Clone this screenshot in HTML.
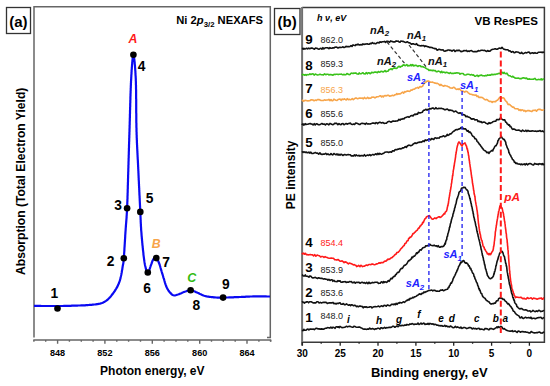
<!DOCTYPE html>
<html><head><meta charset="utf-8"><style>
html,body{margin:0;padding:0;background:#fff;width:550px;height:386px;overflow:hidden}
svg{display:block}
text{font-family:"Liberation Sans",sans-serif}
</style></head><body>
<svg width="550" height="386" viewBox="0 0 550 386">
<rect x="6.5" y="7.5" width="24" height="26" fill="none" stroke="#333" stroke-width="1.3"/>
<text x="18.4" y="27" font-family="Liberation Sans, sans-serif" font-weight="bold" font-size="15" text-anchor="middle">(a)</text>
<path d="M34,337.5 V6.7 H270.3 V337.5 H267" fill="none" stroke="#666" stroke-width="1.5"/>
<path d="M33.3,340 H270.5 V341.5" fill="none" stroke="#666" stroke-width="1.5"/>
<path d="M33.9,340V341.8M45.7,340V341.8M57.6,340V343.8M69.4,340V341.8M81.3,340V341.8M93.1,340V341.8M104.9,340V343.8M116.8,340V341.8M128.6,340V341.8M140.5,340V341.8M152.3,340V343.8M164.1,340V341.8M176.0,340V341.8M187.8,340V341.8M199.7,340V343.8M211.5,340V341.8M223.3,340V341.8M235.2,340V341.8M247.0,340V343.8M258.9,340V341.8M270.7,340V341.8" stroke="#666" stroke-width="1.4"/>
<text x="57.6" y="356.4" font-family="Liberation Sans, sans-serif" font-weight="bold" font-size="9.8" text-anchor="middle" textLength="15.2" lengthAdjust="spacingAndGlyphs">848</text>
<text x="104.9" y="356.4" font-family="Liberation Sans, sans-serif" font-weight="bold" font-size="9.8" text-anchor="middle" textLength="15.2" lengthAdjust="spacingAndGlyphs">852</text>
<text x="152.3" y="356.4" font-family="Liberation Sans, sans-serif" font-weight="bold" font-size="9.8" text-anchor="middle" textLength="15.2" lengthAdjust="spacingAndGlyphs">856</text>
<text x="199.7" y="356.4" font-family="Liberation Sans, sans-serif" font-weight="bold" font-size="9.8" text-anchor="middle" textLength="15.2" lengthAdjust="spacingAndGlyphs">860</text>
<text x="247.0" y="356.4" font-family="Liberation Sans, sans-serif" font-weight="bold" font-size="9.8" text-anchor="middle" textLength="15.2" lengthAdjust="spacingAndGlyphs">864</text>
<text x="152.3" y="374.9" font-family="Liberation Sans, sans-serif" font-weight="bold" font-size="12" text-anchor="middle">Photon energy, eV</text>
<text transform="translate(24.8,181.3) rotate(-90)" font-family="Liberation Sans, sans-serif" font-weight="bold" font-size="12.1" text-anchor="middle">Absorption (Total Electron Yield)</text>
<text x="263" y="23.9" font-family="Liberation Sans, sans-serif" font-weight="bold" font-size="11.2" text-anchor="end">Ni 2<tspan font-style="italic">p</tspan><tspan font-size="7.8" dy="2.8">3/2</tspan><tspan dy="-2.8"> NEXAFS</tspan></text>
<path d="M34.0,305.9L34.4,305.9L34.8,305.9L35.2,305.9L35.7,305.9L36.2,305.9L36.8,305.9L37.4,305.9L38.0,305.9L38.6,305.9L39.3,305.9L39.9,305.9L40.6,305.9L41.4,306.0L42.1,306.0L42.9,306.0L43.6,306.0L44.4,306.0L45.2,306.0L46.0,306.0L46.8,306.0L47.7,306.0L48.5,306.0L49.3,306.0L50.1,306.0L50.9,306.0L51.8,306.0L52.6,306.0L53.4,306.0L54.2,306.0L55.0,306.0L55.7,306.0L56.5,306.0L57.2,306.0L58.0,306.0L58.7,306.0L59.3,306.0L60.0,306.0L60.8,306.0L61.6,306.0L62.3,306.0L63.1,306.0L63.9,305.9L64.7,305.9L65.5,305.9L66.3,305.9L67.1,305.9L67.9,305.9L68.7,305.8L69.4,305.8L70.2,305.8L71.0,305.8L71.7,305.7L72.5,305.7L73.2,305.7L74.0,305.7L74.7,305.7L75.4,305.6L76.1,305.6L76.8,305.6L77.4,305.6L78.1,305.5L78.7,305.5L79.3,305.5L79.9,305.5L80.4,305.5L81.0,305.4L81.5,305.4L82.0,305.4L83.3,305.4L84.3,305.3L85.2,305.3L86.0,305.2L86.7,305.2L87.3,305.1L87.8,305.1L88.3,305.0L88.9,305.0L89.4,304.9L90.0,304.9L90.9,304.8L91.7,304.8L92.5,304.7L93.2,304.6L94.0,304.5L94.7,304.5L95.4,304.4L96.0,304.3L96.9,304.2L97.7,304.1L98.5,303.9L99.2,303.8L100.0,303.6L100.7,303.4L101.3,303.2L102.0,303.0L102.7,302.7L103.3,302.4L104.0,302.1L104.7,301.7L105.3,301.3L106.0,300.9L106.7,300.4L107.3,299.9L108.0,299.3L108.5,298.8L109.0,298.3L109.5,297.8L110.0,297.2L110.5,296.7L111.0,296.1L111.5,295.4L112.0,294.8L112.4,294.3L112.8,293.7L113.2,293.2L113.6,292.6L114.1,292.0L114.5,291.4L114.9,290.8L115.3,290.2L115.6,289.6L116.0,289.0L116.4,288.3L116.8,287.7L117.1,287.1L117.5,286.4L117.8,285.7L118.1,285.1L118.4,284.4L118.7,283.7L119.0,283.0L119.2,282.3L119.5,281.7L119.7,281.0L119.9,280.4L120.1,279.7L120.3,279.0L120.5,278.3L120.6,277.5L120.8,276.8L121.0,276.0L121.1,275.4L121.3,274.7L121.4,274.1L121.5,273.4L121.7,272.7L121.8,272.0L121.9,271.2L122.0,270.5L122.2,269.8L122.3,269.1L122.4,268.4L122.5,267.7L122.6,267.0L122.7,266.3L122.8,265.8L122.9,265.3L123.0,264.8L123.1,264.3L123.2,263.9L123.3,263.3L123.4,262.6L123.5,261.8L123.6,260.9L123.7,259.7L123.8,258.3L123.8,257.8L123.9,257.3L123.9,256.8L124.0,256.2L124.0,255.7L124.0,255.1L124.1,254.4L124.1,253.8L124.2,253.1L124.2,252.5L124.3,251.8L124.3,251.0L124.4,250.3L124.4,249.6L124.4,248.8L124.5,248.1L124.5,247.3L124.6,246.5L124.6,245.8L124.7,245.0L124.7,244.2L124.8,243.4L124.8,242.6L124.9,241.8L124.9,241.0L125.0,240.2L125.0,239.4L125.1,238.6L125.1,237.9L125.2,237.1L125.2,236.3L125.2,235.6L125.3,234.8L125.3,234.1L125.4,233.4L125.4,232.7L125.5,232.0L125.5,231.3L125.6,230.6L125.6,230.0L125.7,229.2L125.7,228.4L125.8,227.7L125.8,227.0L125.9,226.3L125.9,225.6L126.0,225.0L126.0,224.3L126.1,223.7L126.1,223.1L126.2,222.5L126.2,221.8L126.3,221.2L126.3,220.6L126.4,220.0L126.4,219.4L126.5,218.8L126.5,218.2L126.6,217.5L126.6,216.9L126.6,216.2L126.7,215.5L126.7,214.8L126.8,214.1L126.8,213.4L126.9,212.6L126.9,211.8L127.0,210.9L127.0,210.1L127.1,209.1L127.1,208.2L127.1,207.6L127.1,207.1L127.2,206.5L127.2,205.9L127.2,205.3L127.2,204.7L127.3,204.1L127.3,203.4L127.3,202.8L127.3,202.2L127.4,201.5L127.4,200.8L127.4,200.2L127.4,199.5L127.5,198.8L127.5,198.1L127.5,197.4L127.5,196.7L127.5,196.0L127.6,195.3L127.6,194.6L127.6,193.9L127.6,193.2L127.7,192.4L127.7,191.7L127.7,191.0L127.7,190.2L127.7,189.5L127.8,188.7L127.8,188.0L127.8,187.3L127.8,186.5L127.8,185.7L127.9,185.0L127.9,184.2L127.9,183.5L127.9,182.7L128.0,182.0L128.0,181.2L128.0,180.4L128.0,179.7L128.0,178.9L128.1,178.2L128.1,177.4L128.1,176.7L128.1,175.9L128.1,175.2L128.2,174.4L128.2,173.7L128.2,172.9L128.2,172.2L128.3,171.5L128.3,170.7L128.3,170.0L128.3,169.3L128.3,168.6L128.4,168.0L128.4,167.3L128.4,166.6L128.4,165.9L128.4,165.2L128.5,164.6L128.5,163.9L128.5,163.2L128.5,162.5L128.5,161.9L128.6,161.2L128.6,160.5L128.6,159.9L128.6,159.2L128.6,158.5L128.7,157.8L128.7,157.2L128.7,156.5L128.7,155.8L128.7,155.1L128.8,154.5L128.8,153.8L128.8,153.1L128.8,152.4L128.8,151.8L128.9,151.1L128.9,150.4L128.9,149.7L128.9,149.0L128.9,148.3L129.0,147.6L129.0,146.9L129.0,146.2L129.0,145.5L129.0,144.8L129.1,144.1L129.1,143.4L129.1,142.7L129.1,142.0L129.2,141.3L129.2,140.6L129.2,139.8L129.2,139.1L129.2,138.4L129.3,137.6L129.3,136.9L129.3,136.1L129.3,135.4L129.4,134.6L129.4,133.9L129.4,133.1L129.4,132.3L129.5,131.6L129.5,130.8L129.5,130.0L129.5,129.4L129.5,128.7L129.6,128.1L129.6,127.4L129.6,126.7L129.6,126.0L129.6,125.4L129.7,124.7L129.7,124.0L129.7,123.3L129.7,122.5L129.7,121.8L129.8,121.1L129.8,120.4L129.8,119.6L129.8,118.9L129.8,118.2L129.9,117.4L129.9,116.7L129.9,115.9L129.9,115.2L129.9,114.4L130.0,113.6L130.0,112.9L130.0,112.1L130.0,111.3L130.0,110.6L130.1,109.8L130.1,109.0L130.1,108.3L130.1,107.5L130.2,106.7L130.2,106.0L130.2,105.2L130.2,104.4L130.2,103.6L130.3,102.9L130.3,102.1L130.3,101.4L130.3,100.6L130.4,99.8L130.4,99.1L130.4,98.3L130.4,97.6L130.4,96.9L130.5,96.1L130.5,95.4L130.5,94.7L130.5,93.9L130.6,93.2L130.6,92.5L130.6,91.8L130.6,91.1L130.7,90.4L130.7,89.7L130.7,89.1L130.7,88.4L130.8,87.7L130.8,87.1L130.8,86.4L130.8,85.8L130.9,85.2L130.9,84.6L130.9,84.0L130.9,83.4L131.0,82.8L131.0,82.2L131.0,81.6L131.0,81.1L131.1,80.5L131.1,80.0L131.2,78.9L131.2,77.9L131.3,76.8L131.3,75.8L131.4,74.7L131.5,73.7L131.5,72.7L131.6,71.7L131.6,70.7L131.7,69.7L131.8,68.8L131.8,67.8L131.9,66.9L132.0,66.0L132.0,65.1L132.1,64.3L132.2,63.5L132.2,62.7L132.3,62.0L132.4,61.2L132.4,60.5L132.5,59.9L132.6,59.3L132.6,58.7L132.7,58.2L132.8,57.7L132.9,57.3L132.9,56.9L133.0,56.5L133.1,56.2L133.1,56.0L133.2,55.8L133.3,55.6L133.3,55.5L133.4,55.5L133.5,55.5L133.5,55.6L133.6,55.8L133.7,56.0L133.8,56.2L133.8,56.5L133.9,56.9L134.0,57.3L134.1,57.7L134.1,58.2L134.2,58.7L134.3,59.3L134.4,59.9L134.4,60.5L134.5,61.2L134.6,62.0L134.7,62.7L134.7,63.5L134.8,64.3L134.9,65.1L135.0,66.0L135.0,66.9L135.1,67.8L135.2,68.8L135.2,69.7L135.3,70.7L135.4,71.7L135.4,72.7L135.5,73.7L135.5,74.7L135.6,75.8L135.7,76.8L135.7,77.9L135.8,78.9L135.8,80.0L135.8,80.5L135.8,81.1L135.9,81.6L135.9,82.2L135.9,82.8L135.9,83.4L135.9,84.0L135.9,84.6L136.0,85.2L136.0,85.8L136.0,86.4L136.0,87.1L136.0,87.7L136.0,88.4L136.0,89.1L136.1,89.7L136.1,90.4L136.1,91.1L136.1,91.8L136.1,92.5L136.1,93.2L136.1,93.9L136.1,94.7L136.1,95.4L136.1,96.1L136.1,96.9L136.1,97.6L136.1,98.3L136.2,99.1L136.2,99.8L136.2,100.6L136.2,101.4L136.2,102.1L136.2,102.9L136.2,103.6L136.2,104.4L136.2,105.2L136.2,106.0L136.2,106.7L136.2,107.5L136.2,108.3L136.2,109.0L136.2,109.8L136.2,110.6L136.2,111.3L136.2,112.1L136.2,112.9L136.3,113.6L136.3,114.4L136.3,115.2L136.3,115.9L136.3,116.7L136.3,117.4L136.3,118.2L136.3,118.9L136.3,119.6L136.3,120.4L136.3,121.1L136.3,121.8L136.3,122.5L136.4,123.3L136.4,124.0L136.4,124.7L136.4,125.4L136.4,126.0L136.4,126.7L136.4,127.4L136.5,128.1L136.5,128.7L136.5,129.4L136.5,130.0L136.5,130.8L136.5,131.6L136.6,132.3L136.6,133.1L136.6,133.9L136.6,134.6L136.7,135.4L136.7,136.1L136.7,136.9L136.7,137.6L136.8,138.3L136.8,139.0L136.8,139.8L136.9,140.5L136.9,141.2L136.9,141.9L136.9,142.6L137.0,143.3L137.0,144.0L137.0,144.7L137.1,145.4L137.1,146.1L137.1,146.8L137.2,147.5L137.2,148.1L137.2,148.8L137.3,149.5L137.3,150.2L137.3,150.8L137.4,151.5L137.4,152.2L137.4,152.9L137.5,153.5L137.5,154.2L137.5,154.9L137.6,155.6L137.6,156.2L137.6,156.9L137.7,157.6L137.7,158.2L137.7,158.9L137.8,159.6L137.8,160.3L137.9,160.9L137.9,161.6L137.9,162.3L138.0,163.0L138.0,163.7L138.0,164.4L138.1,165.1L138.1,165.8L138.1,166.5L138.2,167.2L138.2,167.9L138.2,168.6L138.3,169.3L138.3,170.0L138.3,170.7L138.4,171.4L138.4,172.1L138.4,172.8L138.5,173.6L138.5,174.3L138.5,175.0L138.6,175.8L138.6,176.5L138.6,177.3L138.7,178.0L138.7,178.8L138.7,179.6L138.8,180.3L138.8,181.1L138.9,181.9L138.9,182.6L138.9,183.4L139.0,184.2L139.0,185.0L139.0,185.7L139.1,186.5L139.1,187.3L139.2,188.1L139.2,188.9L139.2,189.6L139.3,190.4L139.3,191.2L139.3,191.9L139.4,192.7L139.4,193.5L139.4,194.2L139.5,195.0L139.5,195.7L139.6,196.5L139.6,197.2L139.6,197.9L139.7,198.7L139.7,199.4L139.7,200.1L139.8,200.8L139.8,201.5L139.8,202.2L139.9,202.9L139.9,203.6L139.9,204.2L140.0,204.9L140.0,205.5L140.0,206.2L140.1,206.8L140.1,207.4L140.1,208.0L140.1,208.6L140.2,209.2L140.2,209.8L140.2,210.3L140.2,210.9L140.3,211.4L140.3,211.9L140.4,213.1L140.4,214.1L140.5,215.2L140.5,216.1L140.5,217.0L140.6,217.9L140.6,218.6L140.6,219.4L140.7,220.1L140.7,220.8L140.7,221.4L140.7,222.0L140.8,222.6L140.8,223.2L140.8,223.8L140.9,224.3L140.9,224.9L140.9,225.5L140.9,226.0L141.0,226.6L141.0,227.3L141.1,227.9L141.1,228.6L141.1,229.3L141.2,230.0L141.2,230.7L141.3,231.4L141.4,232.1L141.4,232.8L141.5,233.5L141.5,234.3L141.6,235.0L141.6,235.7L141.7,236.5L141.8,237.2L141.8,238.0L141.9,238.7L142.0,239.4L142.0,240.2L142.1,240.9L142.2,241.7L142.2,242.4L142.3,243.1L142.4,243.9L142.4,244.6L142.5,245.3L142.6,246.0L142.7,246.7L142.7,247.4L142.8,248.1L142.9,248.7L142.9,249.4L143.0,250.0L143.1,250.8L143.2,251.7L143.3,252.5L143.4,253.3L143.4,254.1L143.5,254.9L143.6,255.6L143.7,256.4L143.8,257.2L143.9,257.9L144.0,258.6L144.1,259.4L144.2,260.1L144.3,260.7L144.4,261.4L144.5,262.0L144.6,262.7L144.7,263.3L144.8,263.9L144.9,264.5L145.0,265.0L145.2,266.0L145.5,267.0L145.7,268.0L145.9,268.9L146.2,269.8L146.5,270.6L146.7,271.3L147.0,271.8L147.3,272.2L147.5,272.5L147.8,272.6L148.1,272.5L148.4,272.1L148.7,271.6L149.0,270.9L149.3,270.1L149.6,269.2L149.9,268.3L150.2,267.4L150.5,266.5L150.7,265.7L151.0,265.0L151.3,264.2L151.6,263.5L151.9,262.7L152.1,261.9L152.4,261.2L152.7,260.6L152.9,260.0L153.2,259.4L153.5,259.0L154.2,258.3L154.9,257.8L155.6,257.7L156.3,258.0L156.6,258.3L157.0,258.6L157.3,259.1L157.6,259.6L157.9,260.3L158.2,261.0L158.6,262.0L159.0,263.0L159.2,263.5L159.4,264.0L159.6,264.6L159.8,265.2L160.0,265.9L160.2,266.5L160.4,267.2L160.6,268.0L160.8,268.7L161.0,269.4L161.2,270.2L161.5,270.9L161.7,271.7L161.9,272.4L162.1,273.2L162.4,273.9L162.6,274.6L162.8,275.3L163.0,276.0L163.2,276.7L163.4,277.4L163.6,278.1L163.9,278.8L164.1,279.5L164.3,280.3L164.5,281.0L164.7,281.7L164.9,282.4L165.1,283.1L165.3,283.7L165.5,284.4L165.8,285.1L166.0,285.7L166.2,286.3L166.5,286.9L166.7,287.5L167.0,288.0L167.4,288.8L167.9,289.5L168.3,290.3L168.8,291.0L169.3,291.7L169.8,292.3L170.3,292.9L170.8,293.4L171.3,293.9L171.8,294.3L172.2,294.7L172.7,295.0L173.5,295.3L174.2,295.5L175.0,295.4L175.7,295.2L176.4,295.0L177.2,294.7L178.0,294.5L178.6,294.3L179.3,294.1L179.9,293.8L180.6,293.5L181.3,293.2L181.9,292.9L182.6,292.5L183.3,292.3L184.0,292.0L184.7,291.7L185.4,291.5L186.2,291.2L186.9,290.9L187.6,290.7L188.4,290.5L189.1,290.3L189.9,290.2L190.6,290.2L191.3,290.3L192.0,290.4L192.7,290.6L193.4,290.9L194.1,291.2L194.8,291.5L195.5,291.8L196.2,292.2L197.0,292.5L197.6,292.8L198.2,293.0L198.8,293.3L199.5,293.7L200.1,294.0L200.8,294.3L201.4,294.6L202.1,294.9L202.8,295.2L203.5,295.5L204.3,295.8L205.0,296.0L205.7,296.2L206.3,296.3L207.0,296.5L207.8,296.6L208.5,296.7L209.2,296.8L210.0,296.9L210.7,297.0L211.5,297.1L212.2,297.1L212.9,297.2L213.7,297.3L214.3,297.3L215.0,297.4L215.8,297.5L216.5,297.5L217.1,297.6L217.7,297.6L218.3,297.6L218.9,297.6L219.6,297.6L220.3,297.6L221.1,297.6L222.0,297.6L223.1,297.6L223.6,297.6L224.2,297.6L224.8,297.6L225.4,297.5L226.1,297.5L226.8,297.5L227.4,297.5L228.2,297.5L228.9,297.4L229.6,297.4L230.4,297.4L231.1,297.4L231.9,297.3L232.6,297.3L233.4,297.3L234.2,297.2L234.9,297.2L235.7,297.2L236.5,297.1L237.2,297.1L237.9,297.1L238.6,297.1L239.3,297.0L240.0,297.0L240.8,297.0L241.5,296.9L242.2,296.9L243.0,296.9L243.7,296.8L244.4,296.8L245.1,296.8L245.9,296.7L246.6,296.7L247.3,296.7L248.0,296.6L248.7,296.6L249.4,296.6L250.1,296.5L250.8,296.5L251.5,296.5L252.2,296.5L252.9,296.4L253.6,296.4L254.3,296.4L255.0,296.4L255.7,296.4L256.5,296.4L257.3,296.4L258.1,296.4L258.9,296.4L259.7,296.4L260.6,296.4L261.4,296.4L262.2,296.4L263.0,296.4L263.8,296.4L264.6,296.4L265.4,296.4L266.1,296.4L266.8,296.5L267.5,296.5L268.1,296.5L268.6,296.5L269.2,296.5L269.6,296.5L270.0,296.5" fill="none" stroke="#0a0af2" stroke-width="2.2" stroke-linejoin="round"/>
<circle cx="57.5" cy="308.5" r="3.3" fill="#000"/>
<circle cx="123.8" cy="258.3" r="3.3" fill="#000"/>
<circle cx="127.1" cy="208.2" r="3.3" fill="#000"/>
<circle cx="133.4" cy="54.8" r="3.3" fill="#000"/>
<circle cx="140.3" cy="211.9" r="3.3" fill="#000"/>
<circle cx="147.8" cy="272.5" r="3.3" fill="#000"/>
<circle cx="156.3" cy="258.1" r="3.3" fill="#000"/>
<circle cx="190.6" cy="290.2" r="3.3" fill="#000"/>
<circle cx="223.1" cy="297.6" r="3.3" fill="#000"/>
<text x="54.4" y="298.1" font-family="Liberation Sans, sans-serif" font-weight="bold" font-size="13.8" text-anchor="middle">1</text>
<text x="110.5" y="265.7" font-family="Liberation Sans, sans-serif" font-weight="bold" font-size="13.8" text-anchor="middle">2</text>
<text x="118" y="210.2" font-family="Liberation Sans, sans-serif" font-weight="bold" font-size="13.8" text-anchor="middle">3</text>
<text x="141.6" y="71.4" font-family="Liberation Sans, sans-serif" font-weight="bold" font-size="13.8" text-anchor="middle">4</text>
<text x="149.6" y="202.5" font-family="Liberation Sans, sans-serif" font-weight="bold" font-size="13.8" text-anchor="middle">5</text>
<text x="147.1" y="292.8" font-family="Liberation Sans, sans-serif" font-weight="bold" font-size="13.8" text-anchor="middle">6</text>
<text x="166" y="267.4" font-family="Liberation Sans, sans-serif" font-weight="bold" font-size="13.8" text-anchor="middle">7</text>
<text x="196.4" y="310.4" font-family="Liberation Sans, sans-serif" font-weight="bold" font-size="13.8" text-anchor="middle">8</text>
<text x="225.8" y="289.4" font-family="Liberation Sans, sans-serif" font-weight="bold" font-size="13.8" text-anchor="middle">9</text>
<text x="133" y="43.3" font-family="Liberation Sans, sans-serif" font-weight="bold" font-style="italic" font-size="12.3" fill="#ff1a1a" text-anchor="middle">A</text>
<text x="156.2" y="248.2" font-family="Liberation Sans, sans-serif" font-weight="bold" font-style="italic" font-size="12.3" fill="#f7a54a" text-anchor="middle">B</text>
<text x="191.8" y="281.6" font-family="Liberation Sans, sans-serif" font-weight="bold" font-style="italic" font-size="12.5" fill="#33bb11" text-anchor="middle">C</text>
<rect x="274.5" y="8.5" width="25.5" height="26" fill="none" stroke="#333" stroke-width="1.3"/>
<text x="287.2" y="27.4" font-family="Liberation Sans, sans-serif" font-weight="bold" font-size="15" text-anchor="middle">(b)</text>
<path d="M302.2,7.6 H544.4 V342.2 H302.2" fill="none" stroke="#3a3a3a" stroke-width="1.5"/>
<path d="M302.1,345.6 V6.9" fill="none" stroke="#707070" stroke-width="2"/>
<path d="M302.3,342V345.7M321.2,342V343.8M340.2,342V345.7M359.1,342V343.8M378.0,342V345.7M396.9,342V343.8M415.9,342V345.7M434.8,342V343.8M453.7,342V345.7M472.6,342V343.8M491.6,342V345.7M510.5,342V343.8M529.4,342V345.7" stroke="#222" stroke-width="1.3"/>
<text x="302.3" y="356.7" font-family="Liberation Sans, sans-serif" font-weight="bold" font-size="10" text-anchor="middle">30</text>
<text x="340.2" y="356.7" font-family="Liberation Sans, sans-serif" font-weight="bold" font-size="10" text-anchor="middle">25</text>
<text x="378.0" y="356.7" font-family="Liberation Sans, sans-serif" font-weight="bold" font-size="10" text-anchor="middle">20</text>
<text x="415.9" y="356.7" font-family="Liberation Sans, sans-serif" font-weight="bold" font-size="10" text-anchor="middle">15</text>
<text x="453.7" y="356.7" font-family="Liberation Sans, sans-serif" font-weight="bold" font-size="10" text-anchor="middle">10</text>
<text x="491.6" y="356.7" font-family="Liberation Sans, sans-serif" font-weight="bold" font-size="10" text-anchor="middle">5</text>
<text x="529.4" y="356.7" font-family="Liberation Sans, sans-serif" font-weight="bold" font-size="10" text-anchor="middle">0</text>
<text x="429.3" y="376.5" font-family="Liberation Sans, sans-serif" font-weight="bold" font-size="13" text-anchor="middle">Binding energy, eV</text>
<text transform="translate(294.8,174.8) rotate(-90)" font-family="Liberation Sans, sans-serif" font-weight="bold" font-size="12" text-anchor="middle">PE intensity</text>
<text x="474.6" y="24.5" font-family="Liberation Sans, sans-serif" font-weight="bold" font-size="11.3" textLength="63.4" lengthAdjust="spacingAndGlyphs">VB ResPES</text>
<text x="317" y="20.8" font-family="Liberation Sans, sans-serif" font-weight="bold" font-style="italic" font-size="9" textLength="29.3" lengthAdjust="spacing">h &#957;, eV</text>
<path d="M302.0,48.7L302.6,48.4L303.2,49.2L303.9,48.3L304.8,49.0L305.6,48.7L306.6,48.2L307.6,48.9L308.7,48.1L309.8,48.7L310.9,48.1L312.0,48.1L313.2,48.6L314.4,49.2L315.5,48.1L316.7,48.2L317.8,48.8L318.9,49.3L320.0,48.6L321.0,48.3L321.9,49.2L322.9,47.7L323.9,48.9L324.9,48.0L325.9,47.7L326.9,47.7L327.9,47.9L328.9,48.7L329.9,47.6L330.9,48.2L331.9,48.3L332.9,47.8L333.9,48.0L335.0,47.2L336.0,47.1L337.0,47.3L338.0,48.0L339.0,47.5L340.0,47.2L341.0,47.5L342.0,47.2L343.0,46.8L344.0,47.5L345.0,47.2L346.0,46.3L347.0,46.7L348.0,46.4L349.0,46.8L350.0,46.4L351.0,45.5L352.0,46.5L353.0,44.9L354.0,45.3L355.0,45.6L356.0,44.5L357.0,44.9L358.0,44.0L359.0,44.9L360.0,44.9L361.0,44.5L362.0,44.9L363.0,43.9L364.1,44.4L365.1,44.1L366.2,44.0L367.2,43.7L368.2,44.2L369.3,44.2L370.3,43.4L371.3,43.6L372.4,42.6L373.4,43.5L374.4,43.3L375.4,43.8L376.3,43.4L377.3,42.5L378.2,42.6L379.1,43.0L380.0,41.8L381.2,42.4L382.3,41.8L383.4,41.7L384.5,41.4L385.6,42.5L386.6,41.3L387.6,41.4L388.6,41.6L389.6,42.2L390.6,40.9L391.5,41.4L392.4,41.5L393.3,42.0L394.2,41.8L395.0,41.9L396.2,40.9L397.2,41.2L398.2,41.1L399.1,42.0L400.0,42.2L400.9,41.0L401.8,41.2L402.8,41.4L403.8,41.6L405.0,42.2L405.8,42.5L406.7,42.1L407.6,41.8L408.5,42.7L409.4,42.8L410.4,43.3L411.4,44.1L412.4,43.9L413.4,43.8L414.4,44.2L415.5,44.5L416.6,43.7L417.7,45.3L418.8,45.4L420.0,45.8L420.9,45.9L421.8,45.5L422.7,45.7L423.7,45.5L424.6,46.6L425.6,45.9L426.6,46.2L427.6,46.7L428.7,46.9L429.7,47.5L430.7,47.3L431.8,47.5L432.8,48.0L433.8,48.2L434.9,48.8L435.9,48.5L437.0,50.1L438.0,49.9L439.0,49.3L440.0,49.6L441.0,49.9L442.0,50.0L443.0,49.7L444.0,51.0L445.0,51.3L446.0,50.5L447.0,50.6L448.0,50.0L449.0,50.0L450.0,50.4L451.0,50.3L452.0,51.2L453.0,50.2L454.0,50.0L455.0,51.5L456.0,50.8L457.0,50.2L458.0,50.8L459.0,50.0L460.0,50.8L461.0,51.6L462.0,51.4L463.1,51.2L464.1,50.5L465.2,50.7L466.3,50.4L467.3,51.4L468.4,51.0L469.4,51.4L470.5,50.7L471.5,50.6L472.6,51.5L473.6,51.8L474.6,51.6L475.6,51.5L476.5,51.6L477.4,51.4L478.3,50.6L479.2,51.0L480.0,50.8L481.3,50.2L482.5,50.2L483.6,50.5L484.7,50.4L485.7,51.0L486.7,51.4L487.6,50.5L488.5,51.2L489.4,51.1L490.3,51.0L491.1,49.9L492.0,49.6L493.1,49.3L494.2,49.0L495.2,48.7L496.2,49.1L497.2,49.2L498.1,48.8L499.1,48.0L500.0,48.2L501.0,48.4L502.0,47.4L503.0,48.5L504.0,49.3L504.9,49.4L505.9,49.8L506.9,49.8L507.9,49.8L509.0,51.1L510.0,50.7L510.9,51.7L511.7,52.2L512.5,51.5L513.3,51.8L514.1,52.8L514.9,52.7L515.9,51.9L517.1,52.0L518.4,52.2L520.0,53.4L520.8,53.3L521.6,52.3L522.5,53.4L523.5,53.6L524.5,53.1L525.6,52.6L526.7,52.9L527.9,52.3L529.0,52.1L530.2,53.6L531.4,53.0L532.6,52.8L533.8,53.4L535.0,52.6L536.1,53.3L537.3,53.2L538.3,52.2L539.4,52.2L540.3,52.2L541.2,52.1L542.1,52.7L542.8,52.1L543.4,52.4L544.0,51.9" fill="none" stroke="#111" stroke-width="1.6" stroke-linejoin="round"/>
<path d="M302.0,75.3L302.5,74.4L303.1,74.5L303.8,74.7L304.5,75.2L305.3,74.5L306.1,75.3L307.0,74.6L307.9,74.7L308.9,74.6L309.9,73.8L310.9,74.5L311.9,74.1L313.0,73.8L314.1,75.1L315.3,74.1L316.4,74.6L317.5,75.0L318.7,74.7L319.9,74.3L321.0,74.6L322.2,74.7L323.4,75.0L324.5,73.9L325.7,74.7L326.8,74.2L327.9,74.2L328.9,75.0L330.0,74.5L331.0,74.6L332.0,74.9L333.0,75.1L334.0,74.3L335.1,74.6L336.1,74.3L337.2,74.3L338.2,74.6L339.3,74.2L340.4,74.3L341.5,74.1L342.6,74.8L343.7,74.4L344.7,74.6L345.8,74.7L346.9,73.6L347.9,74.0L349.0,74.6L350.0,74.4L351.0,73.2L352.0,73.1L353.0,73.6L354.0,73.0L354.9,73.2L355.8,72.9L356.7,73.8L357.6,74.0L358.4,74.1L359.2,72.9L360.0,73.7L361.4,73.6L362.8,72.7L364.0,73.8L365.2,73.9L366.3,72.6L367.3,73.8L368.3,72.8L369.2,72.9L370.1,73.7L370.9,73.3L371.7,72.2L372.6,72.6L373.4,72.7L374.2,72.3L375.0,72.0L376.2,72.1L377.3,72.7L378.4,71.5L379.4,72.2L380.3,71.9L381.2,71.2L382.2,71.5L383.1,71.9L384.0,71.5L385.0,70.6L386.0,71.8L387.0,71.3L388.1,71.2L389.1,69.5L390.1,69.4L391.1,68.7L392.1,69.6L393.1,68.4L394.1,67.9L395.0,68.1L396.1,68.5L397.2,68.0L398.2,66.8L399.2,66.3L400.2,67.2L401.1,66.4L402.1,66.3L403.0,65.1L404.0,64.9L405.0,65.7L405.9,65.2L406.8,64.6L407.8,65.9L408.9,65.4L410.0,65.7L410.9,64.6L411.8,65.8L412.8,64.6L413.8,66.0L414.8,65.4L415.9,65.3L416.9,65.8L418.0,66.5L419.0,65.7L420.0,65.7L421.0,66.6L422.0,66.5L423.0,66.7L424.0,67.3L425.0,67.6L426.0,68.3L427.0,68.9L428.0,69.3L429.0,70.4L430.0,70.0L431.0,70.5L431.8,70.2L432.7,70.7L433.5,70.3L434.4,70.8L435.3,70.5L436.3,71.8L437.4,71.6L438.6,71.1L440.0,71.8L440.8,72.6L441.6,71.3L442.5,72.6L443.4,72.1L444.3,72.3L445.3,72.9L446.3,72.3L447.3,72.6L448.3,73.0L449.4,73.5L450.4,72.6L451.5,73.5L452.6,73.4L453.7,73.4L454.8,73.1L455.8,73.1L456.9,72.8L458.0,73.0L459.0,73.0L460.0,74.2L461.0,73.5L462.0,73.5L463.1,73.5L464.1,74.8L465.2,75.0L466.3,74.8L467.3,74.3L468.4,74.3L469.4,74.5L470.5,74.9L471.5,74.5L472.6,75.1L473.6,74.9L474.6,76.1L475.6,76.2L476.5,75.6L477.4,75.2L478.3,76.5L479.2,75.5L480.0,75.6L481.3,75.0L482.5,75.7L483.6,75.8L484.7,75.9L485.7,75.4L486.7,75.8L487.6,74.9L488.5,75.3L489.4,74.9L490.3,75.3L491.1,74.6L492.0,74.4L493.2,74.7L494.3,74.3L495.4,74.5L496.4,74.0L497.4,74.0L498.4,73.5L499.3,73.3L500.2,73.4L501.0,72.4L502.2,72.2L503.2,73.4L504.1,72.3L505.0,73.5L506.0,73.7L506.9,73.2L507.9,74.9L508.8,75.6L509.8,75.7L510.9,76.4L512.0,77.0L512.8,76.2L513.5,77.1L514.2,77.2L514.9,78.0L515.7,78.1L516.8,78.3L518.2,78.1L520.0,78.8L520.7,78.6L521.5,78.6L522.4,78.0L523.4,77.7L524.4,78.0L525.4,78.4L526.6,78.1L527.7,79.3L528.9,78.9L530.1,79.1L531.3,79.2L532.5,79.3L533.7,79.1L534.9,78.4L536.1,79.7L537.2,79.7L538.3,79.4L539.3,79.5L540.3,79.7L541.2,78.8L542.0,80.0L542.8,79.2L543.4,79.0L544.0,79.3" fill="none" stroke="#3ac21a" stroke-width="1.6" stroke-linejoin="round"/>
<path d="M302.0,101.0L302.5,100.1L303.1,101.0L303.8,101.3L304.5,100.5L305.3,100.4L306.1,100.5L307.0,100.8L307.9,100.9L308.9,100.7L309.9,100.7L310.9,99.8L311.9,99.9L313.0,100.0L314.1,100.8L315.3,100.1L316.4,100.5L317.5,99.5L318.7,99.6L319.9,99.9L321.0,100.5L322.2,100.5L323.4,100.5L324.5,99.8L325.7,100.2L326.8,100.0L327.9,100.0L328.9,99.4L330.0,100.6L331.0,99.5L332.0,100.7L332.9,100.6L333.9,99.1L334.9,99.7L336.0,100.3L337.0,100.5L338.0,99.6L339.0,99.3L340.0,99.1L341.1,100.3L342.1,99.0L343.1,99.6L344.2,98.8L345.2,99.4L346.2,100.0L347.2,98.7L348.3,99.7L349.3,99.2L350.3,99.7L351.3,99.4L352.3,98.6L353.3,99.6L354.3,98.9L355.3,98.1L356.2,98.0L357.2,98.7L358.1,98.6L359.1,98.2L360.0,97.9L361.1,98.2L362.2,98.0L363.3,98.8L364.4,97.4L365.5,98.5L366.6,98.5L367.6,97.3L368.7,98.5L369.8,98.0L370.8,98.2L371.9,97.1L372.9,97.2L373.9,97.1L375.0,98.0L376.0,97.2L376.9,96.7L377.9,96.7L378.9,96.4L379.8,95.9L380.7,95.9L381.6,96.9L382.5,96.0L383.4,96.9L384.2,95.7L385.0,95.6L386.3,95.9L387.5,95.2L388.6,95.4L389.6,96.2L390.6,95.9L391.5,95.7L392.4,95.3L393.2,95.6L394.1,95.5L395.0,94.7L395.9,94.8L396.8,93.5L397.8,94.4L398.9,93.7L400.0,93.9L400.9,93.5L401.8,92.7L402.7,92.1L403.7,93.2L404.7,91.6L405.7,91.9L406.7,91.3L407.8,90.9L408.9,91.3L409.9,91.4L411.0,89.9L412.0,90.2L413.0,89.3L414.0,89.3L415.0,88.7L416.0,88.0L416.9,87.7L417.7,87.4L418.5,88.2L419.3,87.3L420.0,86.6L421.4,86.9L422.5,86.3L423.4,84.7L424.2,83.4L424.8,82.8L425.5,82.0L426.2,81.9L427.0,81.1L428.0,81.1L428.8,81.1L429.7,81.6L430.5,82.3L431.4,82.3L432.3,82.0L433.2,82.4L434.2,82.9L435.3,83.1L436.3,83.4L437.5,83.4L438.7,84.1L440.0,85.5L440.8,84.4L441.7,85.2L442.7,85.7L443.6,86.3L444.7,85.5L445.7,85.8L446.8,86.0L447.9,86.5L449.0,86.9L450.1,87.9L451.2,88.0L452.3,88.3L453.4,87.2L454.5,87.5L455.5,88.9L456.5,89.4L457.5,89.0L458.4,89.4L459.2,88.7L460.0,89.5L461.4,90.8L462.6,91.1L463.7,91.5L464.7,92.1L465.6,91.3L466.5,91.4L467.3,91.8L468.2,92.8L469.0,93.4L470.0,94.2L471.0,94.2L472.0,94.5L473.0,95.0L474.0,94.9L475.0,95.4L476.0,94.9L477.0,96.5L478.0,96.0L479.0,97.5L480.0,97.4L481.0,97.3L482.1,97.5L483.2,98.2L484.3,99.3L485.4,99.9L486.4,99.4L487.4,99.8L488.4,100.9L489.2,101.4L490.0,101.3L491.4,101.6L492.2,102.5L492.9,101.5L494.0,101.7L494.8,101.6L495.6,101.8L496.5,100.6L497.5,100.2L498.5,98.9L499.4,97.8L500.2,97.4L501.0,98.2L502.2,97.9L503.1,97.8L504.0,98.2L505.0,100.0L505.6,100.9L506.2,101.3L506.8,101.8L507.5,103.3L508.2,104.6L509.0,104.3L510.0,104.8L510.8,105.7L511.7,106.4L512.6,107.3L513.6,107.0L514.7,108.4L515.8,108.7L516.8,108.8L517.9,108.7L519.0,110.3L520.0,109.5L521.0,110.6L521.9,109.9L522.9,110.0L523.8,111.1L524.8,110.4L525.7,111.6L526.7,110.9L527.7,110.5L528.8,110.6L530.0,110.9L530.9,111.2L531.9,111.6L533.0,110.2L534.1,110.5L535.3,110.1L536.5,111.2L537.6,109.7L538.8,109.4L539.9,109.3L540.9,109.7L541.9,110.3L542.7,110.2L543.4,109.8L544.0,110.2" fill="none" stroke="#f7a54a" stroke-width="1.6" stroke-linejoin="round"/>
<path d="M302.0,125.1L302.5,124.1L303.1,123.9L303.7,125.1L304.4,124.8L305.1,123.6L305.9,124.6L306.6,124.2L307.5,124.2L308.3,124.1L309.2,123.8L310.2,123.5L311.1,124.0L312.1,124.1L313.1,125.0L314.2,123.7L315.2,125.0L316.3,123.8L317.4,124.0L318.5,124.8L319.6,124.8L320.8,124.1L321.9,123.5L323.1,124.2L324.2,124.0L325.4,124.9L326.6,123.7L327.7,124.0L328.9,124.8L330.0,123.4L331.2,124.0L332.4,124.6L333.5,124.5L334.6,123.4L335.7,123.3L336.8,123.4L337.9,124.7L339.0,123.6L340.0,124.4L341.0,124.6L342.0,123.7L343.0,123.6L344.0,124.7L345.0,124.1L346.1,123.5L347.1,124.2L348.2,123.6L349.3,123.5L350.3,123.1L351.4,124.2L352.5,124.5L353.6,124.0L354.6,124.5L355.7,123.0L356.8,123.3L357.9,123.7L359.0,124.4L360.1,124.4L361.1,123.5L362.2,123.3L363.2,123.5L364.3,123.6L365.3,124.3L366.4,123.1L367.4,124.0L368.4,123.9L369.4,124.0L370.4,123.9L371.4,123.6L372.3,123.1L373.2,123.1L374.2,123.1L375.1,123.7L375.9,122.6L376.8,122.7L377.6,123.6L378.4,122.7L379.2,122.4L380.0,122.3L381.5,123.0L382.8,122.5L384.1,123.4L385.3,123.2L386.4,123.2L387.5,121.9L388.5,121.5L389.4,121.4L390.4,121.9L391.2,122.1L392.1,121.5L393.0,121.0L393.8,121.1L394.6,121.2L395.5,121.1L396.3,121.0L397.2,121.0L398.1,120.5L399.0,119.3L400.0,120.2L401.0,119.1L401.9,119.3L402.9,118.6L403.9,118.9L404.9,117.7L405.9,117.4L407.0,117.1L408.0,116.6L409.0,117.3L410.0,116.5L411.0,115.7L412.0,115.4L413.0,116.0L413.9,114.8L414.9,114.0L415.8,114.6L416.7,114.0L417.6,114.2L418.4,112.4L419.2,112.7L420.0,113.0L421.3,112.6L422.4,112.2L423.4,110.4L424.4,110.3L425.3,109.6L426.1,109.3L427.0,110.2L427.9,109.3L428.8,109.5L429.7,108.4L430.8,109.0L432.0,108.2L432.9,107.9L433.8,108.7L434.7,109.0L435.8,107.7L436.8,108.6L437.9,108.7L438.9,108.2L440.0,108.5L441.1,108.3L442.2,108.6L443.3,108.8L444.4,109.6L445.4,109.8L446.4,109.3L447.4,109.1L448.3,109.8L449.2,110.5L450.0,109.9L451.3,110.4L452.5,110.5L453.6,111.7L454.6,111.6L455.5,111.1L456.4,111.5L457.3,112.3L458.1,112.9L459.0,113.4L460.0,112.8L461.0,113.3L462.0,114.6L463.0,114.5L464.0,114.8L465.0,115.2L466.0,116.7L467.0,116.1L468.0,117.0L469.0,117.1L470.0,117.6L471.0,118.7L472.0,119.3L473.0,118.7L474.0,118.9L475.0,120.1L476.0,119.7L477.0,119.7L478.0,121.5L479.0,121.1L480.0,122.0L481.0,121.6L482.0,122.7L483.0,122.3L484.0,122.1L484.9,122.2L485.9,123.2L486.9,123.5L487.9,124.1L489.0,122.7L490.0,123.5L490.9,122.9L491.8,122.8L492.8,121.8L493.7,121.5L494.7,121.3L495.7,121.3L496.6,119.5L497.6,119.6L498.5,119.6L499.4,119.5L500.2,118.1L501.0,117.9L502.1,119.4L503.0,119.9L503.9,119.8L504.8,119.9L505.6,122.1L506.3,122.2L507.2,123.9L508.0,124.2L508.7,125.2L509.4,124.8L510.0,126.6L510.7,126.4L511.3,127.4L512.1,128.8L512.9,129.4L513.9,128.9L515.0,129.4L515.8,130.0L516.6,130.3L517.5,130.3L518.5,130.0L519.4,130.2L520.5,131.1L521.5,131.4L522.6,130.1L523.7,130.9L524.8,131.3L525.9,130.2L526.9,131.4L528.0,130.3L529.0,131.1L530.0,131.1L531.1,131.3L532.2,130.8L533.3,131.0L534.5,131.3L535.6,131.1L536.8,131.5L537.9,131.1L539.0,131.1L540.1,130.5L541.0,131.4L541.9,131.3L542.7,130.9L543.4,131.7L544.0,131.7" fill="none" stroke="#111" stroke-width="1.6" stroke-linejoin="round"/>
<path d="M302.0,152.3L302.5,151.9L303.1,152.4L303.8,151.9L304.5,152.0L305.3,152.5L306.1,152.0L307.0,152.6L307.9,152.8L308.9,152.1L309.9,153.1L310.9,152.2L311.9,153.4L313.0,153.5L314.1,153.1L315.3,152.5L316.4,153.2L317.5,153.1L318.7,154.1L319.9,152.9L321.0,154.1L322.2,154.4L323.4,154.0L324.5,154.2L325.7,153.3L326.8,154.6L327.9,153.9L328.9,154.7L330.0,154.7L331.0,153.5L332.0,154.6L332.9,154.9L333.9,153.5L334.9,154.1L336.0,154.8L337.0,153.9L338.0,155.1L339.0,154.2L340.0,155.2L341.1,154.2L342.1,154.8L343.1,155.5L344.2,154.5L345.2,154.6L346.2,155.1L347.2,154.8L348.3,154.5L349.3,154.7L350.3,154.8L351.3,156.0L352.3,155.7L353.3,156.1L354.3,154.9L355.3,155.9L356.2,154.9L357.2,155.6L358.1,155.7L359.1,155.3L360.0,156.1L361.1,155.6L362.2,155.6L363.3,156.0L364.4,154.7L365.5,156.1L366.6,155.4L367.6,155.0L368.7,155.5L369.8,154.6L370.8,155.6L371.9,154.9L372.9,154.4L373.9,155.0L375.0,154.3L376.0,153.8L376.9,154.6L377.9,153.3L378.9,154.4L379.8,153.4L380.7,153.9L381.6,154.3L382.5,153.5L383.4,153.5L384.2,152.8L385.0,152.2L386.3,152.0L387.5,152.0L388.6,152.5L389.6,152.0L390.6,151.9L391.5,152.3L392.4,150.8L393.2,150.7L394.1,151.1L395.0,149.8L395.9,149.5L396.8,149.8L397.8,149.1L398.9,149.1L400.0,148.6L400.8,148.9L401.7,148.6L402.6,147.7L403.5,148.0L404.4,147.4L405.3,146.6L406.3,147.5L407.3,146.0L408.2,145.5L409.2,145.1L410.2,145.6L411.2,145.6L412.2,145.1L413.1,144.1L414.1,143.5L415.1,142.8L416.1,143.5L417.1,143.0L418.1,142.3L419.0,142.5L420.0,141.9L421.0,142.4L422.0,141.8L423.1,140.8L424.2,141.6L425.2,139.9L426.3,140.5L427.4,140.0L428.5,139.5L429.6,139.0L430.6,139.9L431.7,138.5L432.7,139.1L433.7,139.5L434.7,138.0L435.7,137.9L436.6,138.4L437.5,138.0L438.4,138.0L439.2,138.1L440.0,136.9L441.4,136.7L442.6,136.4L443.7,135.7L444.7,136.7L445.6,136.2L446.4,135.8L447.2,134.4L448.1,135.4L449.0,134.8L450.0,133.9L450.9,133.9L451.8,133.0L452.7,132.0L453.7,131.2L454.6,130.7L455.6,129.8L456.5,129.6L457.4,129.7L458.4,129.1L459.3,129.0L460.2,128.5L461.0,127.6L462.0,128.1L462.9,128.0L463.8,128.9L464.7,128.8L465.6,128.9L466.4,130.0L467.3,131.2L468.2,130.7L469.1,132.5L470.0,131.9L470.7,132.9L471.3,133.5L472.0,135.1L472.8,136.2L473.5,136.7L474.2,136.9L474.9,138.7L475.7,138.7L476.4,139.5L477.1,141.4L477.7,141.8L478.4,142.7L479.0,143.5L479.5,144.6L480.0,144.5L481.0,146.4L481.8,147.2L482.4,148.4L482.9,148.5L483.4,149.7L484.0,150.1L485.0,150.7L486.0,151.4L487.0,152.7L488.0,152.1L489.0,153.4L490.0,151.9L491.0,151.1L492.0,150.4L492.7,151.0L493.3,149.3L494.0,148.1L494.6,146.9L495.3,145.9L496.0,145.8L496.5,144.8L497.0,143.9L497.5,142.8L498.0,140.5L498.5,140.2L499.0,138.8L499.5,138.6L500.0,137.9L500.5,137.6L501.2,136.2L502.0,137.8L502.7,138.5L503.5,139.5L504.2,139.4L505.0,140.9L505.3,141.5L505.7,142.2L506.0,144.4L506.4,145.3L506.7,146.0L507.1,147.4L507.5,148.2L507.8,148.7L508.2,149.5L508.6,150.6L508.9,152.7L509.3,152.8L509.6,153.8L510.0,154.8L510.6,155.4L511.2,156.9L511.9,157.9L512.5,159.6L513.1,159.8L513.8,160.5L514.4,162.2L515.0,162.1L515.7,163.4L516.1,163.6L516.6,163.0L517.8,163.9L520.0,164.1L520.7,164.7L521.4,164.0L522.3,164.6L523.2,164.4L524.2,163.9L525.2,164.9L526.3,163.6L527.5,164.8L528.7,163.8L529.9,163.5L531.1,163.8L532.3,164.7L533.5,165.0L534.7,163.4L535.9,164.1L537.1,164.1L538.2,164.6L539.2,163.6L540.2,164.1L541.2,163.8L542.0,164.6L542.8,163.6L543.4,164.7L544.0,163.7" fill="none" stroke="#111" stroke-width="1.6" stroke-linejoin="round"/>
<path d="M302.0,253.0L302.5,253.9L303.2,253.7L303.8,253.2L304.6,254.1L305.4,253.3L306.3,254.6L307.2,254.6L308.2,254.9L309.2,254.8L310.3,254.5L311.3,254.7L312.5,254.9L313.6,255.8L314.8,254.7L315.9,256.2L317.1,255.0L318.3,255.5L319.4,255.7L320.6,256.9L321.8,256.5L322.9,256.5L324.0,257.5L325.1,256.6L326.2,257.2L327.2,257.5L328.2,258.0L329.1,258.2L330.0,258.2L331.2,258.0L332.4,258.3L333.5,258.3L334.7,259.7L335.8,259.7L336.9,260.1L338.0,259.5L339.1,260.3L340.1,261.2L341.1,261.2L342.1,260.8L343.1,261.6L344.1,262.6L345.0,261.9L345.9,262.1L346.8,262.5L347.6,263.4L348.4,263.9L349.2,263.0L350.0,263.2L351.4,263.8L352.5,264.3L353.4,264.9L354.2,264.6L355.0,265.2L355.8,265.2L356.6,266.6L357.5,266.3L358.6,265.4L360.0,266.7L360.8,265.3L361.6,265.7L362.5,266.6L363.5,266.3L364.5,266.1L365.5,265.5L366.6,265.0L367.7,265.5L368.8,264.5L369.9,264.5L371.0,264.7L372.1,263.9L373.2,264.3L374.3,264.7L375.3,264.4L376.4,263.9L377.3,263.9L378.3,263.4L379.2,262.7L380.0,263.2L381.2,262.5L382.3,262.6L383.4,262.5L384.4,261.3L385.4,261.1L386.3,260.9L387.2,259.9L388.0,259.1L388.9,259.4L389.7,259.1L390.5,258.4L391.2,257.8L392.0,257.6L393.0,256.7L393.8,256.0L394.6,255.1L395.4,254.2L396.1,254.1L396.8,252.6L397.6,252.4L398.3,252.2L399.1,251.3L400.0,250.2L400.6,249.0L401.2,248.6L401.8,247.9L402.4,247.4L403.0,246.3L403.6,245.9L404.2,245.5L404.9,243.5L405.5,243.4L406.2,242.8L406.8,241.3L407.5,240.6L408.1,240.6L408.7,238.3L409.4,238.3L410.0,237.0L410.7,237.1L411.4,236.6L412.2,235.1L412.9,233.6L413.7,233.6L414.4,232.7L415.1,232.2L415.9,231.1L416.6,230.6L417.3,230.1L418.0,228.8L418.7,227.9L419.3,228.0L420.0,226.0L420.7,225.9L421.4,224.6L422.1,224.2L422.7,222.2L423.4,222.6L424.1,220.6L424.7,219.2L425.3,218.7L425.9,218.1L426.5,216.7L427.0,216.8L427.5,216.2L428.0,216.3L429.2,215.6L430.0,216.4L430.8,217.5L432.0,219.0L432.8,219.3L433.8,218.6L434.9,217.9L436.0,218.6L437.1,217.7L438.2,217.1L439.2,216.7L440.0,217.4L441.1,217.0L441.9,216.2L442.7,215.4L443.3,214.8L444.0,213.6L444.7,214.0L445.3,212.1L445.9,211.7L446.5,210.9L447.0,209.5L447.2,208.2L447.4,207.1L447.6,206.7L447.8,205.2L448.0,205.4L448.2,203.7L448.4,203.4L448.6,201.3L448.8,200.2L449.0,198.6L449.1,198.1L449.3,196.9L449.4,195.7L449.6,196.0L449.7,194.3L449.9,193.3L450.0,192.4L450.2,191.7L450.4,190.5L450.5,189.8L450.7,188.8L450.9,187.2L451.0,187.1L451.2,185.9L451.4,183.5L451.5,183.7L451.7,182.7L451.8,181.5L452.0,179.4L452.2,179.5L452.3,178.2L452.5,176.2L452.6,175.2L452.8,175.6L452.9,174.1L453.1,172.4L453.2,171.1L453.4,170.1L453.6,169.1L453.7,169.0L453.9,167.2L454.0,165.9L454.2,166.1L454.3,164.9L454.5,163.0L454.6,163.2L454.7,161.9L454.9,161.3L455.0,160.3L455.2,159.3L455.4,157.9L455.6,156.8L455.7,154.7L455.9,154.4L456.1,153.1L456.2,152.5L456.4,151.1L456.5,151.0L456.7,149.6L456.8,148.4L457.0,147.6L457.4,145.8L457.8,144.9L458.1,143.1L458.5,142.9L459.0,141.9L459.7,142.8L460.4,143.8L461.2,145.0L462.0,146.1L463.0,143.9L464.0,143.7L465.0,142.9L465.3,143.6L465.7,144.4L466.0,145.5L466.4,145.8L466.7,147.0L467.1,149.0L467.4,148.8L467.7,151.0L468.0,152.2L468.2,152.1L468.3,153.8L468.5,154.8L468.6,156.0L468.8,155.9L468.9,157.8L469.0,158.0L469.1,158.9L469.3,160.6L469.4,160.4L469.6,162.7L469.8,163.9L470.0,164.9L470.1,166.5L470.2,166.6L470.4,167.6L470.5,168.6L470.6,169.9L470.8,170.0L470.9,171.3L471.1,172.4L471.2,173.6L471.4,175.1L471.5,175.3L471.7,177.3L471.9,177.7L472.0,179.0L472.2,179.7L472.3,181.2L472.5,183.1L472.7,183.6L472.8,184.9L473.0,185.3L473.1,186.3L473.3,187.3L473.4,188.7L473.6,189.8L473.7,190.9L473.9,190.6L474.0,192.6L474.2,194.1L474.4,194.7L474.6,195.1L474.8,196.5L475.0,197.1L475.1,198.4L475.3,200.5L475.5,200.9L475.6,201.9L475.8,203.0L476.0,204.2L476.1,204.6L476.3,205.6L476.5,206.7L476.7,207.8L476.8,208.8L477.0,210.1L477.1,210.3L477.3,211.9L477.4,212.6L477.5,214.1L477.6,214.0L477.7,215.2L477.8,216.1L478.0,218.3L478.1,219.6L478.2,220.3L478.3,221.0L478.4,222.8L478.6,223.8L478.7,224.6L478.8,225.2L478.9,226.3L479.1,227.5L479.2,228.4L479.4,229.6L479.5,230.9L479.7,232.4L479.8,231.9L480.0,233.6L480.2,233.9L480.5,235.2L480.8,237.5L481.1,238.3L481.4,240.0L481.7,240.3L482.0,240.7L482.3,242.3L482.6,243.7L482.9,245.2L483.2,246.2L483.5,246.3L483.8,247.1L484.2,247.4L484.4,249.0L484.7,249.0L485.0,249.5L485.9,251.1L486.7,252.2L487.4,254.0L488.2,253.5L489.0,254.9L489.8,253.5L490.6,254.6L491.5,252.8L492.3,251.4L493.0,250.5L493.2,249.1L493.3,249.1L493.5,247.5L493.6,246.4L493.7,246.7L493.9,245.6L494.0,244.8L494.2,243.6L494.3,241.5L494.4,241.2L494.6,240.3L494.7,238.7L494.8,238.3L495.0,236.1L495.1,236.1L495.2,234.6L495.3,232.3L495.5,231.2L495.6,231.2L495.7,230.4L495.9,228.3L496.0,227.7L496.2,227.2L496.3,225.2L496.5,225.2L496.7,223.4L496.9,221.6L497.1,221.0L497.2,220.2L497.4,218.9L497.6,218.2L497.8,216.2L497.9,216.3L498.1,214.6L498.3,214.1L498.4,213.2L498.6,212.0L498.7,211.2L498.9,211.1L499.0,210.7L499.5,208.2L499.8,206.6L500.1,205.7L500.5,205.3L500.9,207.0L501.2,206.9L501.7,207.8L502.1,208.0L502.5,209.8L503.0,212.3L503.1,212.7L503.3,213.1L503.4,213.4L503.6,214.5L503.7,216.1L503.9,216.3L504.1,217.8L504.2,218.7L504.4,220.2L504.5,221.2L504.7,221.4L504.8,222.1L505.0,223.7L505.2,225.0L505.3,226.4L505.5,227.9L505.6,229.1L505.7,228.8L505.9,231.0L506.0,232.0L506.1,233.1L506.3,233.7L506.4,234.2L506.5,236.1L506.6,237.1L506.7,237.8L506.9,239.2L507.0,239.2L507.1,239.8L507.2,241.5L507.3,242.9L507.4,242.9L507.5,244.8L507.6,246.2L507.7,246.1L507.8,247.8L507.9,249.1L508.0,249.9L508.1,250.4L508.2,251.4L508.2,253.2L508.3,254.2L508.4,254.7L508.5,255.2L508.6,257.4L508.6,258.4L508.7,258.6L508.8,260.2L508.9,261.8L509.0,262.9L509.0,263.4L509.1,264.4L509.2,265.7L509.3,266.1L509.4,267.2L509.4,268.2L509.5,270.0L509.6,270.4L509.7,271.7L509.8,272.4L509.8,273.4L509.9,273.7L510.0,274.3L510.2,277.2L510.3,277.5L510.4,278.3L510.6,280.3L510.7,281.6L510.9,281.5L511.0,283.2L511.2,283.7L511.3,284.8L511.5,284.8L511.6,285.6L511.8,288.0L512.0,288.6L512.3,289.3L512.7,290.6L513.0,291.2L513.4,293.1L513.8,293.5L514.2,295.3L514.6,295.7L515.0,296.5L515.4,297.7L515.6,297.1L516.5,297.0L519.0,297.5L519.6,297.5L520.4,297.4L521.2,297.4L522.1,298.3L523.1,298.8L524.1,298.2L525.2,299.0L526.3,298.9L527.5,297.6L528.7,298.5L529.9,298.2L531.1,297.8L532.4,299.1L533.6,298.0L534.8,298.5L536.0,298.6L537.1,299.2L538.2,298.7L539.3,298.3L540.3,298.4L541.2,297.9L542.0,299.2L542.8,299.3L543.4,298.0L544.0,297.8" fill="none" stroke="#ff1a1a" stroke-width="1.6" stroke-linejoin="round"/>
<path d="M302.0,274.6L302.5,274.9L303.1,275.9L303.8,276.0L304.5,276.0L305.3,274.9L306.1,276.3L307.0,276.3L307.9,276.4L308.9,277.2L309.9,275.9L310.9,276.2L311.9,277.4L313.0,277.9L314.1,277.7L315.3,277.3L316.4,278.0L317.5,278.5L318.7,277.7L319.9,278.3L321.0,278.4L322.2,278.4L323.4,279.1L324.5,278.8L325.7,279.1L326.8,279.2L327.9,280.2L328.9,279.3L330.0,280.5L331.0,279.8L332.0,279.7L332.9,281.3L333.9,280.3L334.9,281.5L336.0,281.5L337.0,281.7L338.0,280.6L339.0,281.2L340.0,280.7L341.1,282.2L342.1,282.1L343.1,281.9L344.2,281.7L345.2,281.6L346.2,282.5L347.2,282.0L348.3,282.3L349.3,281.6L350.3,281.8L351.3,281.6L352.3,282.8L353.3,282.6L354.3,282.0L355.3,283.2L356.2,282.3L357.2,282.5L358.1,282.2L359.1,282.4L360.0,283.3L361.1,282.6L362.2,282.3L363.3,282.9L364.5,282.6L365.6,283.5L366.7,282.3L367.9,283.7L369.0,282.2L370.1,283.5L371.2,283.1L372.3,282.4L373.4,282.8L374.5,282.4L375.5,282.3L376.5,282.2L377.5,282.4L378.5,283.4L379.4,283.3L380.4,283.1L381.2,281.8L382.1,282.0L382.9,282.9L383.6,281.5L384.3,282.5L385.0,281.7L386.9,282.4L388.3,280.5L389.2,281.3L389.9,280.1L390.5,279.2L391.1,278.3L392.0,278.8L392.7,277.8L393.4,276.6L394.1,276.4L394.8,276.5L395.6,274.6L396.3,274.4L397.0,273.0L397.8,272.3L398.5,272.4L399.3,271.6L400.0,270.0L400.7,269.1L401.5,268.3L402.2,268.4L403.0,267.4L403.7,266.2L404.4,265.3L405.2,265.2L405.9,264.6L406.6,264.0L407.3,262.9L408.0,261.5L408.8,260.5L409.6,260.7L410.4,259.4L411.2,259.1L411.9,257.2L412.7,257.7L413.5,256.2L414.2,256.3L415.0,255.6L415.8,254.3L416.5,252.8L417.3,253.5L418.1,252.1L418.8,252.1L419.6,250.4L420.4,249.7L421.2,250.1L422.0,248.8L422.9,247.8L423.9,247.5L424.8,247.3L425.8,245.7L426.8,246.0L427.8,245.5L428.9,245.2L430.0,244.4L430.9,245.3L432.0,245.5L433.0,245.8L434.1,245.1L435.2,246.0L436.3,245.7L437.3,246.6L438.3,245.7L439.2,247.1L440.0,247.2L441.3,246.5L442.4,246.6L443.2,246.4L444.1,245.6L445.0,243.2L445.3,244.1L445.6,242.2L445.8,241.4L446.1,240.4L446.4,239.8L446.7,239.7L446.9,237.4L447.2,236.5L447.5,236.3L447.8,234.4L448.1,233.0L448.3,232.8L448.6,231.6L448.9,230.4L449.2,229.6L449.4,227.5L449.7,227.6L450.0,226.3L450.3,224.3L450.5,223.4L450.8,223.0L451.1,222.0L451.3,220.6L451.6,219.3L451.9,218.7L452.2,217.2L452.4,216.9L452.7,216.3L453.0,214.1L453.2,213.8L453.5,213.1L453.8,211.1L454.0,211.2L454.3,210.4L454.5,208.6L454.8,207.8L455.0,207.5L455.3,205.9L455.6,204.5L455.9,204.2L456.2,202.8L456.5,201.0L456.8,199.8L457.0,198.9L457.3,198.0L457.6,197.9L457.8,196.7L458.1,196.0L458.4,195.0L458.7,194.3L459.0,192.3L459.6,191.7L460.2,191.3L460.9,190.2L461.5,188.3L462.2,188.0L462.9,187.9L463.5,187.3L464.3,187.6L465.1,187.3L465.8,188.6L466.6,189.7L467.3,190.0L468.0,191.4L468.3,193.5L468.6,193.9L468.9,195.0L469.2,195.4L469.4,196.6L469.7,197.7L469.9,198.8L470.2,198.5L470.4,200.7L470.7,201.3L471.0,203.3L471.2,203.4L471.4,204.7L471.6,206.2L471.8,206.6L472.0,207.0L472.2,208.3L472.4,209.2L472.6,211.0L472.8,211.0L473.0,212.0L473.2,213.6L473.4,213.8L473.6,215.7L473.9,217.3L474.1,217.7L474.3,218.4L474.5,219.8L474.8,221.0L475.0,221.4L475.2,222.3L475.4,223.3L475.6,224.5L475.8,225.7L476.1,226.4L476.3,227.3L476.5,228.1L476.7,229.8L477.0,231.3L477.2,231.9L477.4,232.9L477.7,234.0L477.9,234.3L478.1,236.1L478.4,236.8L478.6,237.9L478.8,239.0L479.1,239.8L479.3,240.6L479.5,241.5L479.8,242.5L480.0,243.9L480.2,244.7L480.5,246.1L480.7,246.2L480.9,247.8L481.2,249.7L481.4,249.8L481.7,251.4L481.9,252.4L482.1,253.2L482.4,255.4L482.6,255.4L482.9,257.2L483.1,257.3L483.3,258.2L483.6,260.5L483.8,260.7L484.0,261.1L484.2,262.5L484.4,263.5L484.6,264.8L484.8,264.6L485.0,265.6L485.4,268.3L485.7,269.3L486.0,269.6L486.3,271.0L486.6,272.0L486.9,273.4L487.2,274.1L487.4,275.3L487.7,275.9L488.0,276.0L489.0,277.9L490.0,278.6L491.0,278.6L491.6,277.9L492.2,277.8L492.8,276.9L493.4,276.1L494.0,273.4L494.2,273.9L494.5,271.6L494.7,271.9L495.0,270.7L495.2,269.5L495.4,269.1L495.7,267.4L495.9,266.0L496.2,265.5L496.4,264.6L496.7,263.1L497.0,261.8L497.3,260.8L497.7,259.7L498.0,258.9L498.4,257.0L498.8,255.9L499.1,255.0L499.5,253.7L499.9,252.7L500.3,252.7L500.6,252.3L501.0,251.5L501.5,251.4L502.0,251.3L502.5,252.0L502.9,252.6L503.4,254.5L503.9,255.9L504.5,256.8L505.0,260.2L505.2,259.9L505.4,261.5L505.5,262.3L505.7,263.4L505.9,263.1L506.1,264.4L506.3,266.2L506.5,265.8L506.7,267.0L506.9,268.9L507.0,269.9L507.2,271.7L507.4,272.7L507.6,273.4L507.8,275.3L508.0,275.7L508.2,276.9L508.4,278.3L508.6,278.9L508.8,280.0L509.0,281.4L509.2,282.1L509.4,284.0L509.6,284.5L509.8,285.2L510.0,285.4L510.3,287.0L510.6,288.3L510.9,289.7L511.2,290.9L511.5,292.5L511.8,293.7L512.1,294.0L512.4,294.9L512.6,296.2L512.9,297.7L513.2,297.5L513.5,298.7L513.8,300.0L514.1,299.7L514.4,300.7L514.7,302.5L515.0,302.9L515.7,303.8L516.3,304.3L516.9,306.5L517.5,306.9L518.2,307.7L519.0,308.5L520.0,308.9L520.8,308.6L521.6,308.5L522.5,309.1L523.4,309.8L524.4,310.0L525.5,309.8L526.5,310.0L527.7,310.9L528.8,311.0L530.0,310.8L530.9,311.9L531.9,311.4L533.0,310.4L534.1,311.1L535.3,311.7L536.5,310.9L537.6,311.5L538.8,310.3L539.9,310.8L540.9,311.6L541.9,311.2L542.7,311.3L543.4,310.5L544.0,311.0" fill="none" stroke="#111" stroke-width="1.6" stroke-linejoin="round"/>
<path d="M302.0,302.3L302.5,301.8L303.1,302.5L303.8,302.3L304.4,303.1L305.2,302.4L306.0,302.2L306.8,301.7L307.6,301.8L308.6,302.8L309.5,301.8L310.5,301.8L311.5,301.9L312.5,302.5L313.6,303.0L314.6,302.7L315.7,303.0L316.8,301.8L318.0,301.8L319.1,303.0L320.3,302.4L321.4,303.0L322.6,302.5L323.8,302.2L325.0,302.4L326.1,302.2L327.3,303.5L328.5,303.0L329.6,302.7L330.7,302.9L331.9,302.9L333.0,302.4L334.0,303.8L335.1,303.3L336.1,304.0L337.2,303.2L338.1,303.6L339.1,303.0L340.0,302.8L341.1,304.3L342.2,304.3L343.3,303.5L344.4,304.6L345.5,304.6L346.5,303.9L347.5,304.6L348.6,305.3L349.6,304.7L350.6,305.6L351.6,304.7L352.6,305.1L353.6,305.8L354.5,305.2L355.5,305.5L356.5,306.6L357.4,306.1L358.4,306.8L359.3,306.1L360.3,306.1L361.3,306.5L362.2,306.4L363.2,307.8L364.1,306.8L365.1,307.3L366.1,306.7L367.0,307.4L368.0,307.2L369.0,307.2L370.0,306.7L371.0,306.8L372.0,307.9L373.1,307.1L374.2,306.8L375.2,306.6L376.3,306.7L377.4,306.5L378.5,306.1L379.6,306.9L380.7,306.3L381.9,305.8L383.0,306.5L384.1,305.4L385.2,305.5L386.2,306.2L387.3,304.9L388.4,305.2L389.4,305.7L390.5,305.4L391.5,304.2L392.5,304.3L393.4,304.7L394.4,304.0L395.3,304.7L396.2,303.3L397.0,304.4L397.8,303.5L398.6,302.9L399.3,303.1L400.0,302.4L401.8,302.9L403.3,301.8L404.5,302.4L405.4,301.5L406.2,300.8L407.0,300.2L407.6,300.4L408.3,299.4L409.1,300.0L410.0,298.4L410.9,298.6L411.8,298.3L412.7,297.4L413.6,297.8L414.5,296.7L415.5,296.7L416.4,296.1L417.3,295.3L418.2,295.0L419.1,294.1L420.0,293.9L421.0,294.5L421.9,293.3L422.8,293.4L423.8,292.1L424.7,292.5L425.6,291.8L426.6,291.6L427.7,291.0L428.8,290.3L430.0,290.5L430.9,290.2L431.8,290.0L432.8,290.9L433.9,290.2L435.0,290.4L436.1,291.2L437.2,291.0L438.4,291.2L439.5,291.1L440.6,290.0L441.6,290.2L442.6,289.7L443.5,290.7L444.3,290.5L445.0,289.9L446.2,289.5L447.2,289.3L447.8,288.8L448.4,287.3L448.9,287.5L449.4,285.8L450.0,285.2L450.5,283.7L451.0,282.8L451.5,283.2L452.0,281.9L452.6,280.9L453.1,278.8L453.6,277.8L454.1,277.0L454.5,276.1L455.0,275.3L455.4,274.4L455.9,272.9L456.3,272.3L456.7,271.8L457.1,270.0L457.5,270.0L457.9,268.6L458.2,268.0L458.6,266.4L459.0,265.9L459.6,265.1L460.2,263.6L460.8,262.1L461.4,262.7L462.0,262.0L462.6,260.9L463.7,260.5L464.8,262.5L466.0,263.2L466.6,262.8L467.3,263.7L467.9,264.1L468.6,265.9L469.3,265.9L470.0,268.2L470.4,268.6L470.8,268.4L471.3,270.2L471.7,270.6L472.2,272.1L472.7,273.3L473.1,273.4L473.6,274.2L474.1,276.6L474.5,276.8L475.0,278.7L475.4,279.2L475.8,280.3L476.2,281.4L476.5,282.1L476.9,282.9L477.3,283.3L477.7,285.4L478.1,286.0L478.5,287.1L478.8,288.8L479.2,288.5L479.6,290.4L480.0,290.1L480.6,292.3L481.1,293.5L481.7,293.6L482.2,295.1L482.8,296.6L483.3,297.0L483.9,297.6L484.4,297.9L485.0,298.3L485.9,299.7L486.7,300.6L487.6,301.0L488.5,301.8L489.3,302.1L490.0,303.4L491.1,304.1L492.0,303.7L493.0,303.6L493.7,303.7L494.6,303.0L495.4,303.1L496.2,301.4L497.0,300.7L497.9,300.7L498.7,298.5L499.5,298.3L500.4,297.5L501.2,298.4L502.1,298.4L503.1,299.4L504.0,299.2L505.0,300.8L505.7,301.3L506.4,301.8L507.1,303.0L507.8,303.9L508.6,303.6L509.3,304.8L510.0,305.8L510.6,306.4L511.2,307.0L511.9,308.3L512.5,309.1L513.1,310.8L513.8,311.3L514.4,311.6L515.0,312.7L515.8,313.8L516.5,314.5L517.2,314.9L518.0,315.4L518.9,315.9L520.0,317.9L520.8,317.7L521.6,316.8L522.5,318.0L523.4,318.5L524.4,317.9L525.5,317.2L526.5,317.9L527.7,317.8L528.8,317.5L530.0,318.1L530.9,317.2L531.9,318.7L533.0,318.3L534.1,318.3L535.3,318.8L536.5,318.3L537.6,317.7L538.8,317.6L539.9,317.5L540.9,317.3L541.9,318.5L542.7,318.6L543.4,317.7L544.0,317.5" fill="none" stroke="#111" stroke-width="1.6" stroke-linejoin="round"/>
<path d="M302.0,330.2L302.5,330.5L303.1,330.6L303.8,329.3L304.5,330.3L305.3,330.3L306.1,330.1L307.0,329.3L308.0,329.1L308.9,330.0L309.9,329.1L311.0,329.1L312.1,329.3L313.2,329.0L314.3,329.6L315.5,328.6L316.7,328.2L317.8,328.9L319.0,328.9L320.2,329.1L321.5,328.9L322.7,329.1L323.9,329.1L325.1,328.3L326.3,328.2L327.5,327.6L328.6,327.7L329.8,328.1L330.9,327.2L332.0,328.1L333.0,327.2L334.1,327.5L335.1,328.3L336.0,326.8L336.9,326.7L337.8,327.3L338.6,326.8L339.3,327.6L340.0,326.4L341.9,327.6L343.5,327.5L344.8,327.3L345.9,326.6L346.8,326.3L347.6,326.9L348.2,326.6L348.9,326.4L349.5,326.3L350.2,326.4L351.0,326.8L352.0,327.1L353.0,327.3L353.9,326.2L354.9,326.6L355.9,327.0L356.8,327.3L357.8,327.2L358.8,327.1L359.8,327.1L360.8,327.7L361.8,328.1L362.9,329.0L363.9,329.1L365.0,329.1L365.9,329.3L366.9,329.4L367.8,328.9L368.7,329.2L369.7,328.0L370.6,329.0L371.6,328.9L372.6,328.5L373.5,328.9L374.6,329.5L375.6,328.7L376.6,328.9L377.7,328.3L378.9,328.3L380.0,329.1L380.9,327.7L381.8,327.9L382.7,328.5L383.7,328.1L384.6,327.4L385.6,328.2L386.6,327.6L387.6,327.8L388.7,327.4L389.7,327.4L390.7,327.4L391.8,326.9L392.8,326.3L393.8,326.3L394.9,327.3L395.9,326.6L397.0,325.8L398.0,326.8L399.0,325.7L400.0,325.4L401.0,325.9L402.0,325.3L403.0,325.6L404.0,325.5L405.0,324.9L406.0,325.3L407.0,324.4L408.0,324.9L409.0,324.8L410.0,323.9L411.0,324.2L412.0,323.6L413.0,324.0L414.0,324.6L415.0,324.0L416.0,324.2L417.0,324.1L418.0,323.1L419.0,324.4L420.0,324.0L421.0,323.0L422.0,324.1L423.0,323.5L424.0,323.1L425.0,324.5L426.0,323.9L427.0,324.3L428.0,323.4L429.0,324.5L430.0,323.4L431.0,323.8L432.0,324.2L433.0,323.7L434.0,324.8L435.0,324.3L436.0,324.5L437.0,325.3L438.0,325.0L439.0,325.8L440.0,325.5L441.0,326.0L442.0,325.6L442.9,326.3L443.8,326.3L444.8,325.3L445.7,326.4L446.6,325.8L447.5,326.6L448.4,326.6L449.4,327.0L450.3,326.0L451.3,326.5L452.3,327.2L453.3,327.7L454.3,327.4L455.4,326.4L456.5,327.5L457.6,326.8L458.8,327.6L460.0,328.1L460.9,327.0L461.8,328.4L462.7,328.1L463.7,327.5L464.7,327.5L465.7,327.9L466.7,328.6L467.8,328.3L468.9,327.6L470.0,327.6L471.1,327.8L472.2,329.0L473.4,328.1L474.5,328.7L475.6,328.4L476.7,329.1L477.9,328.6L479.0,328.3L480.0,329.5L481.1,329.1L482.2,329.3L483.2,329.6L484.2,329.8L485.1,328.4L486.0,328.9L486.9,328.6L487.8,329.2L488.6,329.8L489.3,329.7L490.0,328.5L491.8,328.6L493.3,329.4L494.5,328.8L495.4,328.0L496.2,327.8L497.0,326.9L497.6,327.7L498.3,326.7L499.1,327.4L500.0,327.0L500.9,326.3L501.6,327.0L502.2,327.3L502.8,328.8L503.5,328.9L504.3,328.6L505.2,329.4L506.5,330.2L508.0,330.8L510.0,331.3L510.7,331.1L511.4,331.1L512.2,330.6L513.1,331.6L514.0,331.3L515.0,330.9L516.0,331.6L517.1,332.5L518.2,331.1L519.3,331.3L520.4,332.2L521.6,331.6L522.8,331.6L524.0,332.0L525.2,331.7L526.4,332.2L527.6,332.2L528.8,332.9L530.0,333.0L531.2,331.5L532.4,332.3L533.5,332.7L534.7,332.9L535.8,332.7L536.8,332.5L537.8,332.6L538.8,332.1L539.7,332.0L540.6,332.9L541.4,333.0L542.2,333.1L542.8,332.8L543.5,332.2L544.0,332.9" fill="none" stroke="#111" stroke-width="1.6" stroke-linejoin="round"/>
<path d="M387,42 L405.6,64.6 M409,45 L427,68" stroke="#333" stroke-width="1.2" stroke-dasharray="3.5,2.5" fill="none"/>
<path d="M428.9,82 V290.5 M462.1,91 V258.5" stroke="#2626f0" stroke-width="1.35" stroke-dasharray="4,3" fill="none"/>
<path d="M500.8,51.5 V333" stroke="#ff1a1a" stroke-width="2" stroke-dasharray="6,2.9" fill="none"/>
<text x="305.3" y="43.8" font-family="Liberation Sans, sans-serif" font-weight="bold" font-size="13.3">9</text>
<text x="320.5" y="42.8" font-family="Liberation Sans, sans-serif" font-size="9" fill="#222">862.0</text>
<text x="305.3" y="70.3" font-family="Liberation Sans, sans-serif" font-weight="bold" font-size="13.3">8</text>
<text x="320.5" y="67.3" font-family="Liberation Sans, sans-serif" font-size="9" fill="#222">859.3</text>
<text x="305.3" y="93.4" font-family="Liberation Sans, sans-serif" font-weight="bold" font-size="13.3">7</text>
<text x="320.5" y="93" font-family="Liberation Sans, sans-serif" font-size="9" fill="#f7a54a">856.3</text>
<text x="305.3" y="117.8" font-family="Liberation Sans, sans-serif" font-weight="bold" font-size="13.3">6</text>
<text x="320.5" y="116.7" font-family="Liberation Sans, sans-serif" font-size="9" fill="#222">855.6</text>
<text x="305.3" y="147.4" font-family="Liberation Sans, sans-serif" font-weight="bold" font-size="13.3">5</text>
<text x="320.5" y="145.8" font-family="Liberation Sans, sans-serif" font-size="9" fill="#222">855.0</text>
<text x="305.3" y="246.6" font-family="Liberation Sans, sans-serif" font-weight="bold" font-size="13.3">4</text>
<text x="320.5" y="245.6" font-family="Liberation Sans, sans-serif" font-size="9" fill="#ff1a1a">854.4</text>
<text x="305.3" y="271.6" font-family="Liberation Sans, sans-serif" font-weight="bold" font-size="13.3">3</text>
<text x="320.5" y="272.7" font-family="Liberation Sans, sans-serif" font-size="9" fill="#222">853.9</text>
<text x="305.3" y="296.8" font-family="Liberation Sans, sans-serif" font-weight="bold" font-size="13.3">2</text>
<text x="320.5" y="296" font-family="Liberation Sans, sans-serif" font-size="9" fill="#222">853.6</text>
<text x="305.3" y="322" font-family="Liberation Sans, sans-serif" font-weight="bold" font-size="13.3">1</text>
<text x="320.5" y="318.8" font-family="Liberation Sans, sans-serif" font-size="9" fill="#222">848.0</text>
<text x="370" y="34" font-family="Liberation Sans, sans-serif" font-weight="bold" font-style="italic" font-size="11" fill="#111">nA<tspan font-size="7.9" dy="2.4">2</tspan></text>
<text x="407" y="39" font-family="Liberation Sans, sans-serif" font-weight="bold" font-style="italic" font-size="11" fill="#111">nA<tspan font-size="7.9" dy="2.4">1</tspan></text>
<text x="377" y="65" font-family="Liberation Sans, sans-serif" font-weight="bold" font-style="italic" font-size="11" fill="#111">nA<tspan font-size="7.9" dy="2.4">2</tspan></text>
<text x="428" y="65" font-family="Liberation Sans, sans-serif" font-weight="bold" font-style="italic" font-size="11" fill="#111">nA<tspan font-size="7.9" dy="2.4">1</tspan></text>
<text x="407" y="81.4" font-family="Liberation Sans, sans-serif" font-weight="bold" font-style="italic" font-size="11" fill="#2222ff">sA<tspan font-size="7.9" dy="2.4">2</tspan></text>
<text x="460" y="89.4" font-family="Liberation Sans, sans-serif" font-weight="bold" font-style="italic" font-size="11" fill="#2222ff">sA<tspan font-size="7.9" dy="2.4">1</tspan></text>
<text x="443.5" y="258.3" font-family="Liberation Sans, sans-serif" font-weight="bold" font-style="italic" font-size="11" fill="#2222ff">sA<tspan font-size="7.9" dy="2.4">1</tspan></text>
<text x="405.8" y="287.3" font-family="Liberation Sans, sans-serif" font-weight="bold" font-style="italic" font-size="11" fill="#2222ff">sA<tspan font-size="7.9" dy="2.4">2</tspan></text>
<text x="504.2" y="200.6" font-family="Liberation Sans, sans-serif" font-weight="bold" font-style="italic" font-size="11.8" fill="#ff1a1a">pA</text>
<text x="348.3" y="322.9" font-family="Liberation Sans, sans-serif" font-weight="bold" font-style="italic" font-size="10" text-anchor="middle">i</text>
<text x="379" y="324.2" font-family="Liberation Sans, sans-serif" font-weight="bold" font-style="italic" font-size="10" text-anchor="middle">h</text>
<text x="399" y="323" font-family="Liberation Sans, sans-serif" font-weight="bold" font-style="italic" font-size="10" text-anchor="middle">g</text>
<text x="419" y="317.8" font-family="Liberation Sans, sans-serif" font-weight="bold" font-style="italic" font-size="10" text-anchor="middle">f</text>
<text x="441" y="321.6" font-family="Liberation Sans, sans-serif" font-weight="bold" font-style="italic" font-size="10" text-anchor="middle">e</text>
<text x="451.8" y="321.6" font-family="Liberation Sans, sans-serif" font-weight="bold" font-style="italic" font-size="10" text-anchor="middle">d</text>
<text x="476.8" y="322.2" font-family="Liberation Sans, sans-serif" font-weight="bold" font-style="italic" font-size="10" text-anchor="middle">c</text>
<text x="495.9" y="322.2" font-family="Liberation Sans, sans-serif" font-weight="bold" font-style="italic" font-size="10" text-anchor="middle">b</text>
<text x="505.4" y="322.2" font-family="Liberation Sans, sans-serif" font-weight="bold" font-style="italic" font-size="10" text-anchor="middle">a</text>
</svg>
</body></html>
